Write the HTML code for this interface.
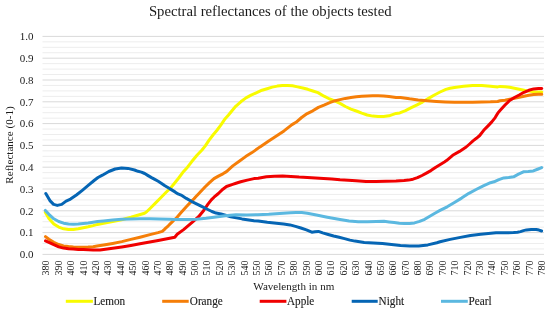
<!DOCTYPE html>
<html><head><meta charset="utf-8"><title>Spectral reflectances of the objects tested</title>
<style>
html,body{margin:0;padding:0;background:#fff;width:550px;height:312px;overflow:hidden}
svg text{font-family:"Liberation Serif","Times New Roman",serif;fill:#1a1a1a}
</style></head><body>
<svg width="550" height="312" viewBox="0 0 550 312" style="position:absolute;left:0;top:0">
<line x1="42.5" y1="254.40" x2="544.0" y2="254.40" stroke="#d9d9d9" stroke-width="1"/>
<line x1="42.5" y1="248.95" x2="544.0" y2="248.95" stroke="#ededed" stroke-width="1"/>
<line x1="42.5" y1="243.50" x2="544.0" y2="243.50" stroke="#ededed" stroke-width="1"/>
<line x1="42.5" y1="238.05" x2="544.0" y2="238.05" stroke="#ededed" stroke-width="1"/>
<line x1="42.5" y1="232.60" x2="544.0" y2="232.60" stroke="#d9d9d9" stroke-width="1"/>
<line x1="42.5" y1="227.15" x2="544.0" y2="227.15" stroke="#ededed" stroke-width="1"/>
<line x1="42.5" y1="221.70" x2="544.0" y2="221.70" stroke="#ededed" stroke-width="1"/>
<line x1="42.5" y1="216.25" x2="544.0" y2="216.25" stroke="#ededed" stroke-width="1"/>
<line x1="42.5" y1="210.80" x2="544.0" y2="210.80" stroke="#d9d9d9" stroke-width="1"/>
<line x1="42.5" y1="205.35" x2="544.0" y2="205.35" stroke="#ededed" stroke-width="1"/>
<line x1="42.5" y1="199.90" x2="544.0" y2="199.90" stroke="#ededed" stroke-width="1"/>
<line x1="42.5" y1="194.45" x2="544.0" y2="194.45" stroke="#ededed" stroke-width="1"/>
<line x1="42.5" y1="189.00" x2="544.0" y2="189.00" stroke="#d9d9d9" stroke-width="1"/>
<line x1="42.5" y1="183.55" x2="544.0" y2="183.55" stroke="#ededed" stroke-width="1"/>
<line x1="42.5" y1="178.10" x2="544.0" y2="178.10" stroke="#ededed" stroke-width="1"/>
<line x1="42.5" y1="172.65" x2="544.0" y2="172.65" stroke="#ededed" stroke-width="1"/>
<line x1="42.5" y1="167.20" x2="544.0" y2="167.20" stroke="#d9d9d9" stroke-width="1"/>
<line x1="42.5" y1="161.75" x2="544.0" y2="161.75" stroke="#ededed" stroke-width="1"/>
<line x1="42.5" y1="156.30" x2="544.0" y2="156.30" stroke="#ededed" stroke-width="1"/>
<line x1="42.5" y1="150.85" x2="544.0" y2="150.85" stroke="#ededed" stroke-width="1"/>
<line x1="42.5" y1="145.40" x2="544.0" y2="145.40" stroke="#d9d9d9" stroke-width="1"/>
<line x1="42.5" y1="139.95" x2="544.0" y2="139.95" stroke="#ededed" stroke-width="1"/>
<line x1="42.5" y1="134.50" x2="544.0" y2="134.50" stroke="#ededed" stroke-width="1"/>
<line x1="42.5" y1="129.05" x2="544.0" y2="129.05" stroke="#ededed" stroke-width="1"/>
<line x1="42.5" y1="123.60" x2="544.0" y2="123.60" stroke="#d9d9d9" stroke-width="1"/>
<line x1="42.5" y1="118.15" x2="544.0" y2="118.15" stroke="#ededed" stroke-width="1"/>
<line x1="42.5" y1="112.70" x2="544.0" y2="112.70" stroke="#ededed" stroke-width="1"/>
<line x1="42.5" y1="107.25" x2="544.0" y2="107.25" stroke="#ededed" stroke-width="1"/>
<line x1="42.5" y1="101.80" x2="544.0" y2="101.80" stroke="#d9d9d9" stroke-width="1"/>
<line x1="42.5" y1="96.35" x2="544.0" y2="96.35" stroke="#ededed" stroke-width="1"/>
<line x1="42.5" y1="90.90" x2="544.0" y2="90.90" stroke="#ededed" stroke-width="1"/>
<line x1="42.5" y1="85.45" x2="544.0" y2="85.45" stroke="#ededed" stroke-width="1"/>
<line x1="42.5" y1="80.00" x2="544.0" y2="80.00" stroke="#d9d9d9" stroke-width="1"/>
<line x1="42.5" y1="74.55" x2="544.0" y2="74.55" stroke="#ededed" stroke-width="1"/>
<line x1="42.5" y1="69.10" x2="544.0" y2="69.10" stroke="#ededed" stroke-width="1"/>
<line x1="42.5" y1="63.65" x2="544.0" y2="63.65" stroke="#ededed" stroke-width="1"/>
<line x1="42.5" y1="58.20" x2="544.0" y2="58.20" stroke="#d9d9d9" stroke-width="1"/>
<line x1="42.5" y1="52.75" x2="544.0" y2="52.75" stroke="#ededed" stroke-width="1"/>
<line x1="42.5" y1="47.30" x2="544.0" y2="47.30" stroke="#ededed" stroke-width="1"/>
<line x1="42.5" y1="41.85" x2="544.0" y2="41.85" stroke="#ededed" stroke-width="1"/>
<line x1="42.5" y1="36.40" x2="544.0" y2="36.40" stroke="#d9d9d9" stroke-width="1"/>
<text x="33.4" y="258.20" text-anchor="end" font-size="11">0.0</text>
<text x="33.4" y="236.40" text-anchor="end" font-size="11">0.1</text>
<text x="33.4" y="214.60" text-anchor="end" font-size="11">0.2</text>
<text x="33.4" y="192.80" text-anchor="end" font-size="11">0.3</text>
<text x="33.4" y="171.00" text-anchor="end" font-size="11">0.4</text>
<text x="33.4" y="149.20" text-anchor="end" font-size="11">0.5</text>
<text x="33.4" y="127.40" text-anchor="end" font-size="11">0.6</text>
<text x="33.4" y="105.60" text-anchor="end" font-size="11">0.7</text>
<text x="33.4" y="83.80" text-anchor="end" font-size="11">0.8</text>
<text x="33.4" y="62.00" text-anchor="end" font-size="11">0.9</text>
<text x="33.4" y="40.20" text-anchor="end" font-size="11">1.0</text>
<text transform="translate(49.40,260.5) rotate(-90)" text-anchor="end" font-size="10">380</text>
<text transform="translate(61.79,260.5) rotate(-90)" text-anchor="end" font-size="10">390</text>
<text transform="translate(74.18,260.5) rotate(-90)" text-anchor="end" font-size="10">400</text>
<text transform="translate(86.57,260.5) rotate(-90)" text-anchor="end" font-size="10">410</text>
<text transform="translate(98.96,260.5) rotate(-90)" text-anchor="end" font-size="10">420</text>
<text transform="translate(111.35,260.5) rotate(-90)" text-anchor="end" font-size="10">430</text>
<text transform="translate(123.74,260.5) rotate(-90)" text-anchor="end" font-size="10">440</text>
<text transform="translate(136.13,260.5) rotate(-90)" text-anchor="end" font-size="10">450</text>
<text transform="translate(148.52,260.5) rotate(-90)" text-anchor="end" font-size="10">460</text>
<text transform="translate(160.91,260.5) rotate(-90)" text-anchor="end" font-size="10">470</text>
<text transform="translate(173.30,260.5) rotate(-90)" text-anchor="end" font-size="10">480</text>
<text transform="translate(185.69,260.5) rotate(-90)" text-anchor="end" font-size="10">490</text>
<text transform="translate(198.08,260.5) rotate(-90)" text-anchor="end" font-size="10">500</text>
<text transform="translate(210.47,260.5) rotate(-90)" text-anchor="end" font-size="10">510</text>
<text transform="translate(222.86,260.5) rotate(-90)" text-anchor="end" font-size="10">520</text>
<text transform="translate(235.25,260.5) rotate(-90)" text-anchor="end" font-size="10">530</text>
<text transform="translate(247.64,260.5) rotate(-90)" text-anchor="end" font-size="10">540</text>
<text transform="translate(260.03,260.5) rotate(-90)" text-anchor="end" font-size="10">550</text>
<text transform="translate(272.42,260.5) rotate(-90)" text-anchor="end" font-size="10">560</text>
<text transform="translate(284.81,260.5) rotate(-90)" text-anchor="end" font-size="10">570</text>
<text transform="translate(297.20,260.5) rotate(-90)" text-anchor="end" font-size="10">580</text>
<text transform="translate(309.59,260.5) rotate(-90)" text-anchor="end" font-size="10">590</text>
<text transform="translate(321.98,260.5) rotate(-90)" text-anchor="end" font-size="10">600</text>
<text transform="translate(334.37,260.5) rotate(-90)" text-anchor="end" font-size="10">610</text>
<text transform="translate(346.76,260.5) rotate(-90)" text-anchor="end" font-size="10">620</text>
<text transform="translate(359.15,260.5) rotate(-90)" text-anchor="end" font-size="10">630</text>
<text transform="translate(371.54,260.5) rotate(-90)" text-anchor="end" font-size="10">640</text>
<text transform="translate(383.93,260.5) rotate(-90)" text-anchor="end" font-size="10">650</text>
<text transform="translate(396.32,260.5) rotate(-90)" text-anchor="end" font-size="10">660</text>
<text transform="translate(408.71,260.5) rotate(-90)" text-anchor="end" font-size="10">670</text>
<text transform="translate(421.10,260.5) rotate(-90)" text-anchor="end" font-size="10">680</text>
<text transform="translate(433.49,260.5) rotate(-90)" text-anchor="end" font-size="10">690</text>
<text transform="translate(445.88,260.5) rotate(-90)" text-anchor="end" font-size="10">700</text>
<text transform="translate(458.27,260.5) rotate(-90)" text-anchor="end" font-size="10">710</text>
<text transform="translate(470.66,260.5) rotate(-90)" text-anchor="end" font-size="10">720</text>
<text transform="translate(483.05,260.5) rotate(-90)" text-anchor="end" font-size="10">730</text>
<text transform="translate(495.44,260.5) rotate(-90)" text-anchor="end" font-size="10">740</text>
<text transform="translate(507.83,260.5) rotate(-90)" text-anchor="end" font-size="10">750</text>
<text transform="translate(520.22,260.5) rotate(-90)" text-anchor="end" font-size="10">760</text>
<text transform="translate(532.61,260.5) rotate(-90)" text-anchor="end" font-size="10">770</text>
<text transform="translate(545.00,260.5) rotate(-90)" text-anchor="end" font-size="10">780</text>
<polyline points="45.30,212.20 48.90,218.60 53.80,224.00 58.70,227.10 63.60,228.80 68.50,229.40 73.40,229.40 78.30,228.80 83.30,227.80 88.20,226.80 93.10,225.60 97.50,224.40 103.60,223.30 112.70,221.60 121.50,219.80 131.00,217.30 144.50,213.20 146.40,212.00 150.30,208.20 155.40,203.10 160.50,198.00 165.60,192.80 170.80,187.70 174.30,183.50 178.30,178.50 182.70,172.60 187.50,167.20 191.60,161.80 197.20,155.00 202.00,150.00 205.30,145.90 209.10,140.10 213.00,135.00 216.80,130.50 220.60,125.40 224.50,119.60 228.30,115.30 231.80,111.00 235.70,106.30 240.80,101.80 246.00,97.90 251.10,95.10 256.20,92.80 262.00,90.20 267.10,88.70 272.20,87.10 277.30,86.10 282.40,85.60 287.50,85.50 292.50,85.80 297.60,86.90 302.70,88.00 307.80,89.30 312.90,91.00 318.00,92.60 324.00,96.20 329.70,99.00 335.30,101.20 340.00,103.40 345.40,106.50 350.90,109.10 356.30,111.00 361.80,113.20 367.20,115.00 372.70,116.10 378.10,116.60 383.60,116.60 389.00,115.80 396.00,113.40 399.80,112.90 405.50,110.60 411.30,107.70 417.10,104.80 422.80,101.80 428.60,98.40 434.40,95.00 440.10,92.00 445.90,89.40 450.00,88.20 454.50,87.40 463.60,86.30 472.70,85.50 481.80,85.50 490.50,86.30 497.70,86.90 500.00,86.40 505.00,86.80 509.60,87.30 514.40,88.20 519.20,89.20 524.00,90.20 528.80,91.10 533.70,91.70 538.50,92.10 541.80,92.10" fill="none" stroke="#f8fb00" stroke-width="3" stroke-linejoin="round" stroke-linecap="round"/>
<polyline points="45.50,236.60 48.90,239.20 53.80,242.30 58.70,244.50 63.60,245.90 68.50,246.60 73.40,247.00 78.30,247.20 83.30,247.30 88.20,247.10 93.10,246.70 97.00,246.10 103.60,245.00 112.70,243.40 121.80,241.60 130.90,239.40 140.00,237.20 150.90,234.40 158.00,232.60 162.30,231.40 164.50,229.40 166.00,227.80 168.30,225.80 173.40,220.60 176.00,218.40 181.10,212.60 186.30,206.80 191.40,201.40 194.00,198.70 196.00,196.50 198.20,194.20 200.50,191.80 205.00,187.00 209.50,182.60 214.00,178.60 218.40,176.10 222.90,173.80 226.50,171.60 232.80,165.90 239.20,161.30 245.60,156.60 252.00,152.60 260.00,146.90 268.00,141.50 276.00,136.20 284.00,130.90 292.00,124.60 296.00,122.30 301.60,117.50 307.20,113.60 312.80,110.80 318.40,107.40 324.00,105.10 329.70,102.60 335.30,100.70 340.00,99.60 345.40,98.40 350.90,97.60 356.30,96.80 361.80,96.20 367.20,95.90 372.70,95.80 378.10,95.80 383.60,95.90 389.00,96.50 396.00,97.50 400.50,97.40 409.50,98.80 418.20,99.90 427.30,100.80 436.40,101.40 445.50,101.90 454.50,102.30 463.60,102.30 472.70,102.30 481.80,101.90 490.50,101.80 497.70,101.50 500.00,100.80 505.00,100.20 509.60,99.30 514.40,98.40 519.20,97.40 524.00,96.30 528.80,95.30 533.70,94.60 538.50,94.30 541.80,94.30" fill="none" stroke="#f57e08" stroke-width="3" stroke-linejoin="round" stroke-linecap="round"/>
<polyline points="45.50,240.80 48.90,242.30 53.80,244.70 58.70,246.90 63.60,248.10 68.50,248.70 73.40,249.10 78.30,249.40 83.30,249.60 88.20,249.80 93.10,249.90 98.00,250.10 100.00,250.00 112.70,248.30 121.80,246.90 130.90,245.40 140.00,243.70 158.20,240.50 174.80,237.30 177.20,234.30 183.60,229.60 192.40,222.20 198.60,216.70 203.70,210.50 207.80,204.40 211.30,199.90 214.00,197.20 218.40,193.50 222.90,189.20 226.50,186.50 231.90,184.60 236.00,183.30 240.70,181.80 247.30,180.10 254.00,178.60 258.20,178.30 266.40,176.80 274.50,176.20 282.70,176.00 290.90,176.40 299.10,177.00 307.30,177.40 315.50,177.90 323.60,178.50 331.80,179.10 340.00,179.80 348.20,180.30 356.00,180.80 366.00,181.50 376.00,181.40 386.00,181.20 396.00,181.00 404.00,180.50 408.50,180.10 413.00,179.20 417.50,177.70 422.00,175.50 426.40,173.10 430.90,170.60 435.40,167.50 439.90,164.70 444.40,162.00 446.50,160.60 452.70,155.30 459.50,151.40 466.20,147.00 469.60,144.00 473.00,140.90 476.40,138.30 479.70,135.50 483.70,130.30 487.80,126.10 491.80,121.90 495.20,117.60 497.90,112.90 500.00,110.60 504.80,105.30 509.60,100.50 514.40,97.50 519.20,95.00 524.00,92.30 528.80,90.30 533.70,88.90 538.50,88.40 541.80,88.50" fill="none" stroke="#f00000" stroke-width="3" stroke-linejoin="round" stroke-linecap="round"/>
<polyline points="45.80,193.50 49.90,200.60 53.60,204.40 57.30,205.40 61.70,204.40 66.10,201.10 70.50,199.10 76.40,195.00 82.30,190.30 88.20,185.40 94.10,180.50 98.00,177.50 102.40,175.20 108.80,171.50 115.20,169.00 121.60,168.00 128.00,168.40 134.50,170.00 138.00,171.30 141.40,172.10 144.70,173.50 148.10,175.60 151.50,177.60 154.80,179.40 158.20,181.30 161.60,183.50 164.90,185.80 168.30,187.80 171.70,189.90 175.00,191.90 178.00,193.90 181.10,195.10 186.30,198.40 191.40,201.30 196.50,203.80 201.60,206.40 206.80,209.00 211.90,211.50 216.00,213.10 221.00,213.90 230.70,216.70 242.00,218.90 254.00,220.80 258.20,221.00 267.30,222.30 276.40,223.20 283.60,224.10 290.00,224.90 295.50,226.40 300.90,228.00 306.40,229.90 311.80,232.20 315.00,231.80 318.40,231.40 322.70,232.90 328.20,234.50 333.60,236.00 339.10,237.30 344.50,238.60 350.00,240.10 355.00,241.10 364.20,242.40 373.30,243.00 382.40,243.60 391.50,244.60 400.50,245.50 409.60,246.00 418.70,246.00 427.80,244.90 436.90,242.70 440.00,241.70 450.20,239.40 460.40,237.40 470.50,235.60 480.70,234.30 490.90,233.30 496.00,232.80 503.80,232.80 513.60,232.60 517.50,232.20 520.50,231.60 523.50,230.60 526.40,229.90 531.30,229.40 536.20,229.60 539.00,230.10 541.60,231.00" fill="none" stroke="#0565b4" stroke-width="3" stroke-linejoin="round" stroke-linecap="round"/>
<polyline points="45.40,210.40 48.90,214.30 53.80,218.80 58.70,221.50 63.60,223.20 68.50,224.00 73.40,224.20 78.30,223.90 83.30,223.40 88.20,222.90 93.10,222.20 97.50,221.50 103.60,220.90 112.70,220.00 121.80,219.30 130.90,218.90 140.00,218.80 150.00,218.80 159.00,219.00 170.00,219.30 176.00,219.60 186.00,219.60 196.50,219.20 206.00,218.30 216.00,216.90 227.30,215.40 236.00,214.70 246.90,214.90 257.80,214.70 268.70,214.20 279.60,213.40 290.50,212.80 296.00,212.60 301.80,212.60 307.30,213.20 316.40,215.00 327.30,217.20 340.00,219.50 349.10,221.00 358.20,221.70 367.30,221.70 376.40,221.40 384.00,221.30 389.10,221.90 394.20,222.60 399.30,223.20 404.40,223.40 409.50,223.40 414.50,222.90 419.60,221.40 424.70,219.30 429.80,216.30 434.90,213.20 440.00,210.40 447.20,206.80 454.40,202.50 461.60,198.10 468.90,193.30 476.10,189.50 483.30,185.90 490.50,182.70 494.00,181.80 498.90,179.60 503.80,177.90 508.70,177.60 513.60,176.80 518.50,174.20 523.40,171.80 528.30,171.50 533.30,170.90 538.20,169.00 541.60,167.60" fill="none" stroke="#5bb8e0" stroke-width="3" stroke-linejoin="round" stroke-linecap="round"/>
<line x1="65.8" y1="301.3" x2="92.9" y2="301.3" stroke="#f8fb00" stroke-width="3"/>
<text transform="translate(93.5,304.8) scale(1,1.05)" font-size="11.2" stroke="#1a1a1a" stroke-width="0.12">Lemon</text>
<line x1="162.2" y1="301.3" x2="188.7" y2="301.3" stroke="#f57e08" stroke-width="3"/>
<text transform="translate(189.8,304.8) scale(1,1.05)" font-size="11.2" stroke="#1a1a1a" stroke-width="0.12">Orange</text>
<line x1="259.7" y1="301.3" x2="286.4" y2="301.3" stroke="#f00000" stroke-width="3"/>
<text transform="translate(287,304.8) scale(1,1.05)" font-size="11.2" stroke="#1a1a1a" stroke-width="0.12">Apple</text>
<line x1="351.7" y1="301.3" x2="377.7" y2="301.3" stroke="#0565b4" stroke-width="3"/>
<text transform="translate(378.6,304.8) scale(1,1.05)" font-size="11.2" stroke="#1a1a1a" stroke-width="0.12">Night</text>
<line x1="441" y1="301.3" x2="467.8" y2="301.3" stroke="#5bb8e0" stroke-width="3"/>
<text transform="translate(468.6,304.8) scale(1,1.05)" font-size="11.2" stroke="#1a1a1a" stroke-width="0.12">Pearl</text>
<text x="148.9" y="16.45" font-size="14.7">Spectral reflectances of the objects tested</text>
<text transform="translate(253.3,289.8) scale(1,1.02)" font-size="11.1">Wavelength in nm</text>
<text transform="translate(13.4,145.0) rotate(-90) scale(1,1.02)" text-anchor="middle" font-size="11.1">Reflectance (0-1)</text>
</svg>
</body></html>
